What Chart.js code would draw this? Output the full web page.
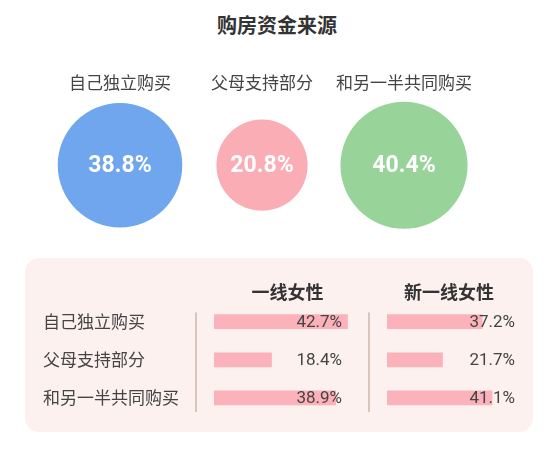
<!DOCTYPE html>
<html lang="zh">
<head>
<meta charset="UTF-8">
<title>购房资金来源</title>
<script src="https://cdn.jsdelivr.net/npm/chart.js"></script>
<style>
  body { margin: 0; width: 554px; height: 451px; overflow: hidden; position: relative; background: #fff; font-family: "Noto Sans CJK SC", sans-serif; }
  #title { position: absolute; left: 0; top: 10px; width: 554px; text-align: center; font-size: 20px; font-weight: bold; color: #333; line-height: 30px; }
  #panel { position: absolute; left: 25px; top: 258px; width: 508px; height: 174px; background: #fdf1f0; border-radius: 14px; }
  canvas { position: absolute; }
</style>
</head>
<body>
<div id="title">购房资金来源</div>
<div id="panel"></div>
<canvas id="bubbles" width="554" height="250" style="left:0;top:0"></canvas>
<canvas id="tier1" width="340" height="174" style="left:25px;top:258px"></canvas>
<canvas id="tier2" width="168" height="174" style="left:365px;top:258px"></canvas>

<script>
var sources = ['自己独立购买', '父母支持部分', '和另一半共同购买'];
var overall = [38.8, 20.8, 40.4];
var groups = ['一线女性', '新一线女性'];
var tier1Values = [42.7, 18.4, 38.9];
var newTier1Values = [37.2, 21.7, 41.1];

var cnFont = '"Noto Sans CJK SC", sans-serif';
var numFont = 'Roboto, sans-serif';
var textColor = '#444';

document.addEventListener('DOMContentLoaded', function () {
    // percent labels inside the circles
    var bubbleText = {
        id: 'bubbleText',
        afterDatasetsDraw: function (chart) {
            var ctx = chart.ctx;
            var meta = chart.getDatasetMeta(0);
            ctx.save();
            ctx.font = 'bold 23px ' + numFont;
            ctx.fillStyle = '#fff';
            ctx.textAlign = 'center';
            ctx.textBaseline = 'middle';
            meta.data.forEach(function (pt, i) {
                ctx.fillText(overall[i].toFixed(1) + '%', pt.x, pt.y + 1);
            });
            ctx.restore();
        }
    };

    new Chart(document.getElementById('bubbles').getContext('2d'), {
        type: 'bubble',
        data: {
            labels: sources,
            datasets: [{
                data: sources.map(function (s, i) {
                    // area proportional to share
                    return { x: s, y: 0, r: 10 * Math.sqrt(overall[i]) };
                }),
                backgroundColor: ['#6fa6ee', '#fbadb6', '#98d39a'],
                borderWidth: 0,
                hoverBorderWidth: 0,
                clip: false
            }]
        },
        options: {
            responsive: false,
            animation: false,
            layout: { autoPadding: false, padding: { top: 68, left: 49, right: 79, bottom: 16 } },
            plugins: { legend: { display: false } },
            scales: {
                x: {
                    type: 'category',
                    position: 'top',
                    offset: true,
                    grid: { display: false, drawTicks: false },
                    border: { display: false },
                    ticks: {
                        padding: 4,
                        maxRotation: 0,
                        minRotation: 0,
                        autoSkip: false,
                        color: textColor,
                        font: { family: cnFont, size: 17 }
                    }
                },
                y: { display: false, min: -1, max: 1 }
            }
        },
        plugins: [bubbleText]
    });

    // separator line and value labels for the bar tables
    var barExtras = {
        id: 'barExtras',
        beforeDatasetsDraw: function (chart) {
            var ctx = chart.ctx;
            var area = chart.chartArea;
            ctx.save();
            ctx.strokeStyle = '#cdb6a7';
            ctx.lineWidth = 1.5;
            ctx.beginPath();
            ctx.moveTo(area.left - 18, area.top + 10);
            ctx.lineTo(area.left - 18, area.bottom - 5);
            ctx.stroke();
            ctx.restore();
        },
        afterDatasetsDraw: function (chart) {
            var ctx = chart.ctx;
            var meta = chart.getDatasetMeta(0);
            var values = chart.data.datasets[0].data;
            ctx.save();
            ctx.font = '17px ' + numFont;
            ctx.fillStyle = textColor;
            ctx.textAlign = 'right';
            ctx.textBaseline = 'middle';
            meta.data.forEach(function (bar, i) {
                ctx.fillText(values[i].toFixed(1) + '%', chart.chartArea.left + 128, bar.y + 1);
            });
            ctx.restore();
        }
    };

    function makeBars(id, header, values, max, showRows, padding) {
        return new Chart(document.getElementById(id).getContext('2d'), {
            type: 'bar',
            data: {
                labels: sources,
                datasets: [{
                    label: header,
                    data: values,
                    backgroundColor: '#fcb2ba',
                    barThickness: 14
                }]
            },
            options: {
                indexAxis: 'y',
                responsive: false,
                animation: false,
                layout: { padding: padding },
                plugins: { legend: { display: false } },
                scales: {
                    x: {
                        position: 'top',
                        min: 0,
                        max: max,
                        grid: { display: false, drawTicks: false },
                        border: { display: false },
                        ticks: { display: false },
                        title: {
                            display: true,
                            text: header,
                            color: '#333',
                            padding: { top: 6, bottom: 0 },
                            font: { family: cnFont, size: 18, weight: 'bold' }
                        }
                    },
                    y: {
                        display: showRows,
                        grid: { display: false, drawTicks: false },
                        border: { display: false },
                        ticks: { crossAlign: 'far', color: textColor, font: { family: cnFont, size: 17 } },
                        afterFit: function (scale) { if (showRows) { scale.width = 171; } }
                    }
                }
            },
            plugins: [barExtras]
        });
    }

    makeBars('tier1', groups[0], tier1Values, 47, true, { top: 17, left: 18, right: 4, bottom: 15 });
    makeBars('tier2', groups[1], newTier1Values, 48.5, false, { top: 17, left: 22, right: 22, bottom: 15 });
});
</script>
</body>
</html>
